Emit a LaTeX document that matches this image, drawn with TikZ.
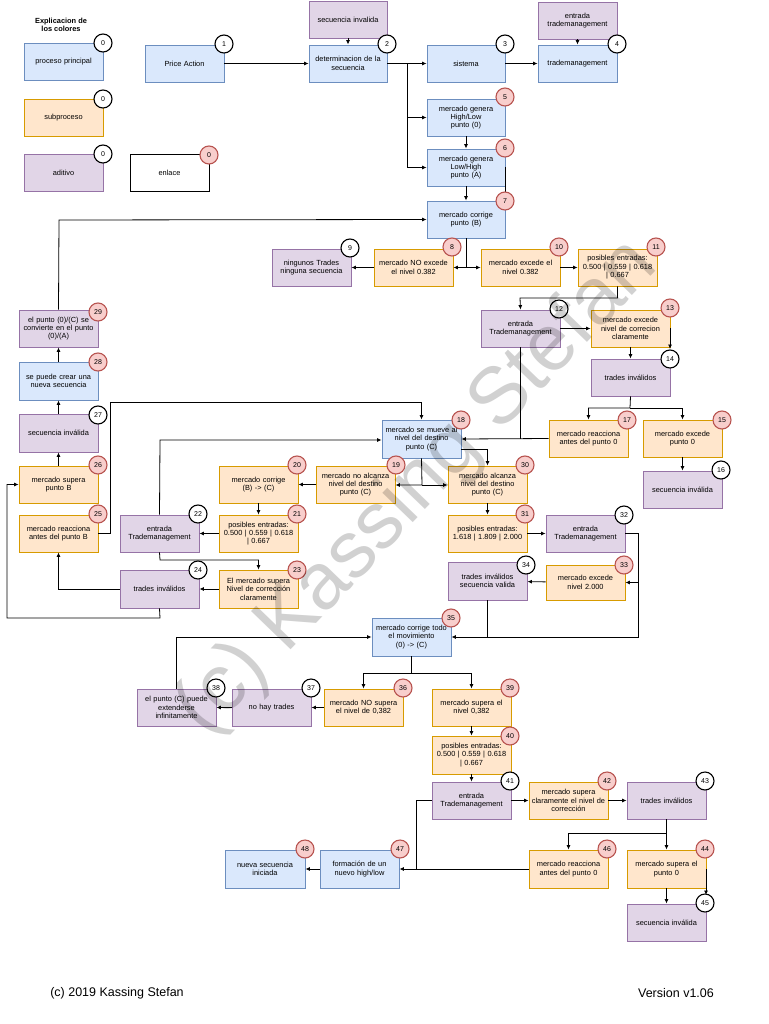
\documentclass[tikz,border=0pt]{standalone}
\usepackage{fontspec}
\setmainfont{Liberation Sans}
\usetikzlibrary{arrows.meta}
\lefthyphenmin=64
\definecolor{bF}{HTML}{DAE8FC}\definecolor{bD}{HTML}{6C8EBF}
\definecolor{oF}{HTML}{FFE6CC}\definecolor{oD}{HTML}{D79B00}
\definecolor{pF}{HTML}{E1D5E7}\definecolor{pD}{HTML}{9673A6}
\definecolor{rF}{HTML}{F8CECC}\definecolor{rD}{HTML}{B85450}
\tikzset{
 boxbase/.style={draw,line width=0.9pt,align=center,inner sep=1pt,font=\fontsize{7.4}{8.4}\selectfont},
 blu/.style={boxbase,fill=bF,draw=bD},
 ora/.style={boxbase,fill=oF,draw=oD},
 pur/.style={boxbase,fill=pF,draw=pD},
 wht/.style={boxbase,fill=white,draw=black},
 bdg/.style={circle,draw=black,fill=white,line width=1.1pt,minimum size=18pt,inner sep=0pt,font=\fontsize{7}{7}\selectfont},
 bdr/.style={bdg,fill=rF,draw=rD},
 arr/.style={line width=0.8pt,-{Latex[length=4.5pt,width=4pt]}},
 ln/.style={line width=0.8pt}
}
\newcommand\bx[7]{\node[#2,minimum width={(#5-#3)*1pt},minimum height={(#6-#4)*1pt},text width={(#5-#3-4)*1pt}] (#1) at ({(#3+#5)/2},{(#4+#6)/2}) {#7};}
\newcommand\bd[5]{\node[#2] (#1) at (#3,#4) {#5};}
\begin{document}
\begin{tikzpicture}[x=1pt,y=-1pt]
\useasboundingbox (0,0) rectangle (768,1024);
\fill[white] (0,0) rectangle (768,1024);
% legend
\node[font=\bfseries\fontsize{7.4}{8.4}\selectfont,align=center] (leg) at (61,25) {Explicacion de\\los colores};
\bx{L1}{blu}{24}{43}{103}{80}{proceso principal}\bd{L1b}{bdg}{103}{43}{0}
\bx{L2}{ora}{24}{99}{103}{136}{subproceso}\bd{L2b}{bdg}{103}{99}{0}
\bx{L3}{pur}{24}{154}{103}{191}{aditivo}\bd{L3b}{bdg}{103}{154}{0}
\bx{L4}{wht}{130}{154}{209}{191}{enlace}\bd{L4b}{bdr}{209}{155}{0}
% boxes
\bx{n1}{blu}{145}{45}{224}{82}{Price Action}
\bx{s2}{pur}{309}{1}{387}{38}{secuencia invalida}
\bx{n2}{blu}{309}{45}{387}{82}{determinacion de la\\secuencia}
\bx{n3}{blu}{427}{45}{505}{82}{sistema}
\bx{e4}{pur}{538}{2}{617}{39}{entrada\\trademanagement}
\bx{n4}{blu}{538}{45}{617}{82}{trademanagement}
\bx{n5}{blu}{427}{99}{505}{136}{mercado genera\\High/Low\\punto (0)}
\bx{n6}{blu}{427}{149}{505}{186}{mercado genera\\Low/High\\punto (A)}
\bx{n7}{blu}{427}{201}{505}{238}{mercado corrige\\punto (B)}
\bx{n8}{ora}{374}{249}{453}{286}{mercado NO excede\\el nivel 0.382}
\bx{n9}{pur}{272}{249}{351}{286}{ningunos Trades\\ninguna secuencia}
\bx{n10}{ora}{481}{249}{560}{286}{mercado excede el\\nivel 0.382}
\bx{n11}{ora}{578}{249}{657}{286}{posibles entradas:\\0.500 | 0.559 | 0.618\\| 0.667}
\bx{n12}{pur}{481}{310}{560}{347}{entrada\\Trademanagement}
\bx{n13}{ora}{591}{310}{670}{347}{mercado excede\\nivel de correcion\\claramente}
\bx{n14}{pur}{591}{359}{670}{396}{trades inválidos}
\bx{n17}{ora}{549}{420}{628}{457}{mercado reacciona\\antes del punto 0}
\bx{n15}{ora}{643}{420}{722}{457}{mercado excede\\punto 0}
\bx{n16}{pur}{643}{471}{722}{508}{secuencia inválida}
\bx{n18}{blu}{382}{420}{461}{458}{mercado se mueve al\\nivel del destino\\punto (C)}
\bx{n19}{ora}{316}{466}{395}{503}{mercado no alcanza\\nivel del destino\\punto (C)}
\bx{n30}{ora}{448}{466}{527}{503}{mercado alcanza\\nivel del destino\\punto (C)}
\bx{n20}{ora}{219}{466}{298}{503}{mercado corrige\\(B) -> (C)}
\bx{n21}{ora}{219}{515}{298}{552}{posibles entradas:\\0.500 | 0.559 | 0.618\\| 0.667}
\bx{n22}{pur}{120}{515}{199}{552}{entrada\\Trademanagement}
\bx{n23}{ora}{219}{570}{298}{608}{El mercado supera\\Nivel de corrección\\claramente}
\bx{n24}{pur}{120}{570}{199}{608}{trades inválidos}
\bx{n25}{ora}{19}{515}{98}{552}{mercado reacciona\\antes del punto B}
\bx{n26}{ora}{19}{466}{98}{503}{mercado supera\\punto B}
\bx{n27}{pur}{19}{414}{98}{452}{secuencia inválida}
\bx{n28}{blu}{19}{362}{98}{400}{se puede crear una\\nueva secuencia}
\bx{n29}{pur}{19}{310}{98}{347}{el punto (0)/(C) se\\convierte en el punto\\(0)/(A)}
\bx{n31}{ora}{448}{515}{527}{552}{posibles entradas:\\1.618 | 1.809 | 2.000}
\bx{n32}{pur}{546}{515}{625}{552}{entrada\\Trademanagement}
\bx{n33}{ora}{546}{565}{625}{600}{mercado excede\\nivel 2.000}
\bx{n34}{pur}{448}{562}{527}{600}{trades inválidos\\secuencia valida}
\bx{n35}{blu}{372}{618}{451}{656}{mercado corrige todo\\el movimiento\\(0) -> (C)}
\bx{n36}{ora}{324}{689}{403}{726}{mercado NO supera\\el nivel de 0,382}
\bx{n37}{pur}{232}{689}{311}{726}{no hay trades}
\bx{n38}{pur}{137}{689}{216}{726}{el punto (C) puede\\extenderse\\infinitamente}
\bx{n39}{ora}{432}{689}{511}{726}{mercado supera el\\nivel 0,382}
\bx{n40}{ora}{432}{736}{511}{774}{posibles entradas:\\0.500 | 0.559 | 0.618\\| 0.667}
\bx{n41}{pur}{432}{782}{511}{819}{entrada\\Trademanagement}
\bx{n42}{ora}{529}{782}{608}{819}{mercado supera\\claramente el nivel de\\corrección}
\bx{n43}{pur}{627}{782}{706}{819}{trades inválidos}
\bx{n46}{ora}{529}{850}{608}{888}{mercado reacciona\\antes del punto 0}
\bx{n44}{ora}{627}{850}{706}{888}{mercado supera el\\punto 0}
\bx{n45}{pur}{627}{904}{706}{941}{secuencia inválida}
\bx{n47}{blu}{320}{850}{399}{888}{formación de un\\nuevo high/low}
\bx{n48}{blu}{225}{850}{305}{888}{nueva secuencia\\iniciada}
% connectors
\draw[arr] (n1) -- (n2);
\draw[arr] (s2) -- (n2);
\draw[arr] (n2) -- (n3);
\coordinate (b2) at (407,63.5);
\draw[arr] (b2) |- (n5.west);
\draw[arr] (b2) |- (n6.west);
\draw[arr] (n3) -- (n4);
\draw[arr] (e4) -- (n4);
\draw[arr] (n5) -- (n6);
\draw[arr] (n6) -- (n7);
\coordinate (r6) at (505,167);
\draw[arr] (r6) -- (505,199) coordinate (t7);
\draw[arr] (n7.south) |- (n8.east);
\draw[arr] (n7.south) |- (n10.west);
\draw[arr] (n8) -- (n9);
\draw[arr] (n10) -- (n11);
\coordinate (j11) at (520,298);
\draw[arr] (n11.south) |- (j11) -- (n12.north);
\draw[arr] (n12) -- (n13);
\draw[arr] (n13.south -| n14.north) -- (n14.north);
\coordinate (r13) at (670,328);
\draw[arr] (r13) -- (670,349);
\coordinate (j14) at (630,408);
\draw[arr] (n14.south) -- (j14) -| (n17.north);
\draw[arr] (j14) -| (n15.north);
\draw[arr] (n15) -- (n16);
\draw[arr] (n17.west) -- (n18.east);
\draw[ln] (n12.south) -- (n12.south |- n17.west);
\coordinate (j18) at (422,485);
\draw[arr] (n18.south) -- (j18) -- (n19.east |- j18);
\draw[arr] (j18) -- (n30.west |- j18);
\coordinate (r18) at (461,449);
\draw[arr] (r18) -| (n30.north);
\draw[arr] (n19.west) -- (n20.east);
\draw[arr] (n20) -- (n21);
\draw[arr] (n21) -- (n22);
\coordinate (j22) at (160,440);
\draw[arr] (n22.north) -- (j22) -- (n18.west |- j22);
\coordinate (k22) at (160,560);
\draw[arr] (n22.south) -- (k22) -| (n23.north);
\draw[arr] (n23) -- (n24);
\draw[arr] (n24.west) -| (n25.south);
\coordinate (a24) at (160,618);\coordinate (c24) at (7,618);\coordinate (d24) at (7,484.5);
\draw[arr] (n24.south) -- (a24) -- (c24) -- (d24) -- (n26.west);
\coordinate (a25) at (110,533.5);\coordinate (c25) at (110,402);
\draw[arr] (n25.east) -- (a25) -- (c25) -| (n18.north);
\draw[arr] (n26) -- (n27);
\draw[arr] (n27) -- (n28);
\draw[arr] (n28) -- (n29);
\coordinate (a29) at (59,220);
\draw[arr] (n29.north) -- (a29) -- (n7.west);
\draw[arr] (n30) -- (n31);
\draw[arr] (n31) -- (n32);
\coordinate (a32) at (638,533.5);\coordinate (c32) at (638,637);
\draw[arr] (n32.east) -- (a32) |- (n33.east);
\draw[arr] (a32) -- (c32) -- (n35.east);
\draw[arr] (n33) -- (n34);
\draw[ln] (n34.south) -- (n34.south |- c32);
\coordinate (j35) at (411.5,673);
\draw[arr] (n35.south) -- (j35) -| (n36.north);
\draw[arr] (j35) -| (n39.north);
\draw[arr] (n36) -- (n37);
\draw[arr] (n37) -- (n38);
\draw[arr] (n38.north) |- (n35.west);
\draw[arr] (n39) -- (n40);
\draw[arr] (n40) -- (n41);
\draw[arr] (n41) -- (n42);
\draw[arr] (n42) -- (n43);
\coordinate (j43) at (666.5,833);
\draw[arr] (n43.south) -- (j43) -| (n46.north);
\draw[arr] (j43) -- (n44.north);
\draw[arr] (n44) -- (n45);
\coordinate (r44) at (706,869);
\draw[arr] (r44) -- (706,895);
\draw[arr] (n46.west) -- (n47.east);
\coordinate (a41) at (416,800.5);
\draw[ln] (n41.west) -- (a41) -- (a41 |- n47.east);
\draw[arr] (n47) -- (n48);
% badges
\bd{b1}{bdg}{224}{44}{1}\bd{b2n}{bdg}{387}{44}{2}\bd{b3}{bdg}{505}{44}{3}\bd{b4}{bdg}{617}{44}{4}
\bd{b5}{bdr}{505}{97}{5}\bd{b6}{bdr}{505}{148}{6}\bd{b7}{bdr}{505}{201}{7}
\bd{b8}{bdr}{452}{247}{8}\bd{b9}{bdg}{350}{248}{9}\bd{b10}{bdr}{559}{247}{10}\bd{b11}{bdr}{656}{247}{11}
\bd{b12}{bdg}{559}{309}{12}\bd{b13}{bdr}{670}{308}{13}\bd{b14}{bdg}{670}{359}{14}
\bd{b17}{bdr}{627}{420}{17}\bd{b15}{bdr}{722}{420}{15}\bd{b16}{bdg}{721}{470}{16}
\bd{b18}{bdr}{461}{420}{18}\bd{b19}{bdr}{396}{465}{19}\bd{b30}{bdr}{525}{465}{30}
\bd{b20}{bdr}{297}{465}{20}\bd{b21}{bdr}{297}{514}{21}\bd{b22}{bdg}{198}{514}{22}
\bd{b23}{bdr}{297}{570}{23}\bd{b24}{bdg}{198}{570}{24}
\bd{b25}{bdr}{98}{514}{25}\bd{b26}{bdr}{98}{465}{26}\bd{b27}{bdg}{98}{415}{27}\bd{b28}{bdr}{98}{362}{28}\bd{b29}{bdr}{98}{312}{29}
\bd{b31}{bdr}{525}{514}{31}\bd{b32}{bdg}{624}{515}{32}\bd{b33}{bdr}{624}{565}{33}\bd{b34}{bdg}{526}{565}{34}
\bd{b35}{bdr}{451}{618}{35}\bd{b36}{bdr}{403}{688}{36}\bd{b37}{bdg}{311}{688}{37}\bd{b38}{bdg}{216}{688}{38}
\bd{b39}{bdr}{510}{688}{39}\bd{b40}{bdr}{510}{736}{40}\bd{b41}{bdg}{510}{781}{41}\bd{b42}{bdr}{607}{781}{42}\bd{b43}{bdg}{705}{781}{43}
\bd{b46}{bdr}{607}{849}{46}\bd{b44}{bdr}{705}{849}{44}\bd{b45}{bdg}{705}{903}{45}
\bd{b47}{bdr}{400}{849}{47}\bd{b48}{bdr}{305}{849}{48}
% watermark (over the diagram, translucent)
\node[rotate=46,text=black,opacity=0.18,font=\fontsize{80}{84}\selectfont] (wm) at (418,488) {(c) Kassing Stefan};
% footer
\node[font=\fontsize{12.5}{14}\selectfont] (f1) at (117,993) {(c) 2019 Kassing Stefan};
\node[font=\fontsize{12.5}{14}\selectfont] (f2) at (676,993) {Version v1.06};
\end{tikzpicture}
\end{document}
